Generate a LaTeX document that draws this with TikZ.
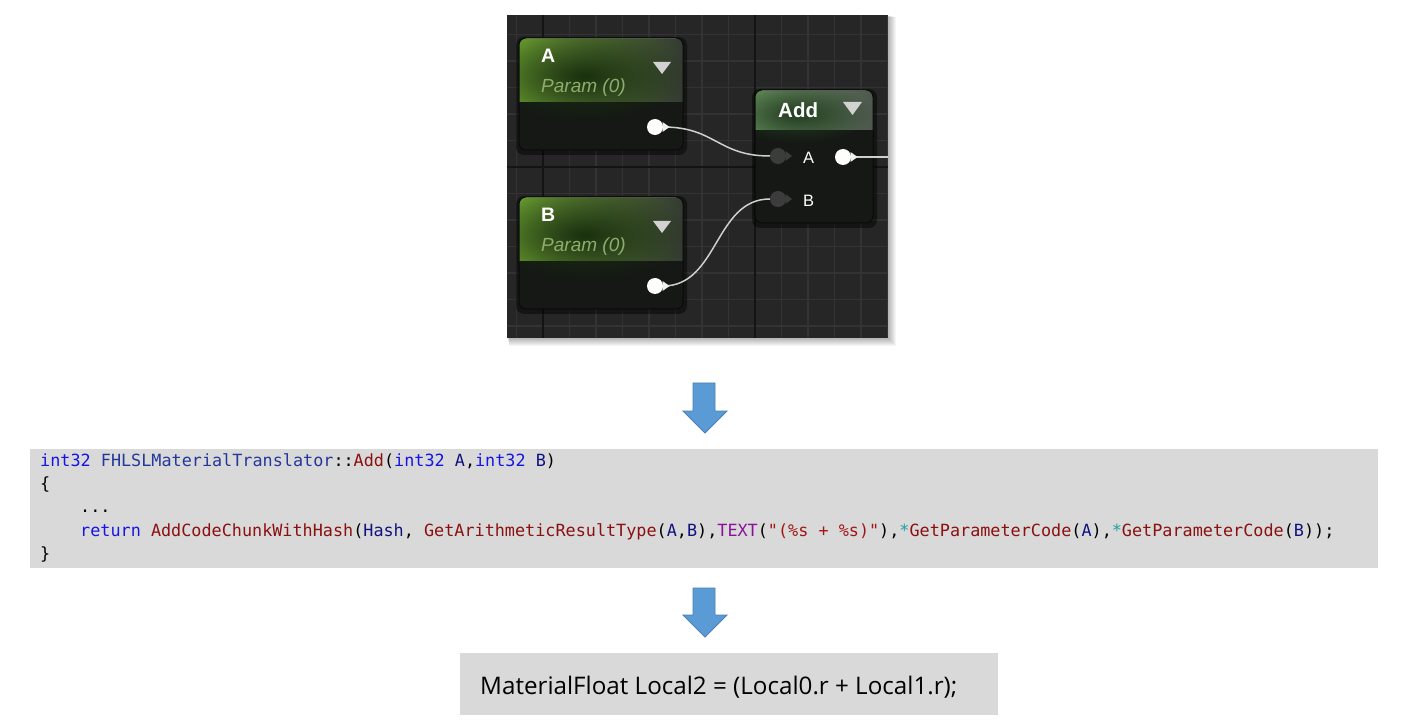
\documentclass[tikz,border=0pt]{standalone}
\usepackage{fontspec}
\setmainfont{Liberation Sans}
\newfontfamily\codefont{DejaVu Sans Mono}
\newfontfamily\outfont{Open Sans}
\usetikzlibrary{fadings}
\tikzfading[name=blobfade, inner color=transparent!0, outer color=transparent!100]
\definecolor{panelbg}{HTML}{262626}
\definecolor{gridminor}{HTML}{333333}
\definecolor{gridmajor}{HTML}{141414}
\definecolor{nodebody}{HTML}{151815}
\definecolor{nodeedge}{HTML}{0A0A0A}
\definecolor{hdrL}{HTML}{66992F}
\definecolor{hdrM}{HTML}{4F7E2B}
\definecolor{hdrR}{HTML}{343B32}
\definecolor{hdrblob}{HTML}{1A300F}
\definecolor{addL}{HTML}{628B5A}
\definecolor{addM}{HTML}{4F7349}
\definecolor{addR}{HTML}{4E584E}
\definecolor{addblob}{HTML}{223C1F}
\definecolor{paramtxt}{HTML}{8FAD6B}
\definecolor{tricol}{HTML}{D2D2D2}
\definecolor{pindark}{HTML}{3C3C3C}
\definecolor{wirecol}{HTML}{CFCFCF}
\definecolor{arrowfill}{HTML}{5B9BD5}
\definecolor{arrowedge}{HTML}{4A7FB5}
\definecolor{boxgray}{HTML}{D9D9D9}
\definecolor{ckw}{HTML}{1515E6}
\definecolor{ccls}{HTML}{23389A}
\definecolor{cfn}{HTML}{8B1010}
\definecolor{cvar}{HTML}{12127F}
\definecolor{cmac}{HTML}{8A0F9A}
\definecolor{cstr}{HTML}{A31515}
\definecolor{cop}{HTML}{1E9E9E}
\newcommand\ckw[1]{\textcolor{ckw}{#1}}
\newcommand\ccls[1]{\textcolor{ccls}{#1}}
\newcommand\cfn[1]{\textcolor{cfn}{#1}}
\newcommand\cvar[1]{\textcolor{cvar}{#1}}
\newcommand\cmac[1]{\textcolor{cmac}{#1}}
\newcommand\cstr[1]{\textcolor{cstr}{#1}}
\newcommand\cop[1]{\textcolor{cop}{#1}}
\tikzset{
  gridline/.style={draw=gridminor, line width=1.3pt},
  majorline/.style={draw=gridmajor, line width=2pt},
  nodeframe/.style={draw=nodeedge, line width=1pt, rounded corners=7pt},
  nodeshadow/.style={fill=black, opacity=0.45, rounded corners=8pt},
  titletxt/.style={anchor=base west, inner sep=0pt, text=white, font=\bfseries\fontsize{19.5}{22}\selectfont},
  paramtext/.style={anchor=base west, inner sep=0pt, text=paramtxt, font=\itshape\fontsize{19}{22}\selectfont},
  pinlabel/.style={anchor=base west, inner sep=0pt, text=white, font=\fontsize{16.5}{19}\selectfont},
  outpin/.style={circle, fill=white, minimum size=16pt, inner sep=0pt},
  inpin/.style={circle, fill=pindark, minimum size=16pt, inner sep=0pt},
  wire/.style={draw=wirecol, line width=1.5pt},
  blockarrow/.style={fill=arrowfill, draw=arrowedge, line width=0.8pt, line join=miter},
  codeline/.style={anchor=base west, inner sep=0pt, font=\codefont\fontsize{16.8}{20}\selectfont},
  outtext/.style={anchor=base west, inner sep=0pt, font=\outfont\fontsize{24.2}{29}\selectfont}
}
\begin{document}
\begin{tikzpicture}[x=1pt,y=-1pt]
\useasboundingbox (0,0) rectangle (1409,727);
\fill[white] (0,0) rectangle (1409,727);

% ---------- panel shadow ----------
\foreach \i in {1,...,8}
  \fill[black,opacity=0.04] ({507+0.3*\i},{15+0.3*\i}) rectangle ({888+\i},{338+\i});

% ---------- panel ----------
\fill[panelbg] (507,15) rectangle (888,338);
\begin{scope}
  \clip (507,15) rectangle (888,338);
  \foreach \k in {-10,...,6}
    \draw[gridline] ({755+\k*26.5},15) -- ++(0,323);
  \foreach \k in {-6,...,7}
    \draw[gridline] (507,{167+\k*26.5}) -- ++(381,0);
  \draw[majorline] (543,15) -- (543,338);
  \draw[majorline] (755,15) -- (755,338);
  \draw[majorline] (507,167) -- (888,167);
\end{scope}

% ---------- node A ----------
\fill[nodeshadow] (516,37) rectangle (687,155);
\begin{scope}
  \clip[rounded corners=7pt] (519,38) rectangle (683,150);
  \fill[nodebody] (519,38) rectangle (683,150);
  \shade[left color=hdrL, middle color=hdrM, right color=hdrR] (519,38) rectangle (683,102);
  \fill[hdrblob, path fading=blobfade] (585,76) ellipse [x radius=105, y radius=46];
  \draw[white, opacity=0.25, line width=1pt] (519,39) -- (683,39);
\end{scope}
\draw[nodeframe] (519,38) rectangle (683,150);
\node[titletxt] (tA) at (541,63) {A};
\node[paramtext] (pA) at (541,93) {Param (0)};
\fill[tricol] (653,62) -- (671,62) -- (662,74) -- cycle;
\node[outpin] (oA) at (655,127) {};

% ---------- node B ----------
\fill[nodeshadow] (516,196) rectangle (687,314);
\begin{scope}
  \clip[rounded corners=7pt] (519,197) rectangle (683,309);
  \fill[nodebody] (519,197) rectangle (683,309);
  \shade[left color=hdrL, middle color=hdrM, right color=hdrR] (519,197) rectangle (683,261);
  \fill[hdrblob, path fading=blobfade] (585,235) ellipse [x radius=105, y radius=46];
  \draw[white, opacity=0.25, line width=1pt] (519,198) -- (683,198);
\end{scope}
\draw[nodeframe] (519,197) rectangle (683,309);
\node[titletxt] (tB) at (541,222) {B};
\node[paramtext] (pB) at (541,252) {Param (0)};
\fill[tricol] (653,221) -- (671,221) -- (662,233) -- cycle;
\node[outpin] (oB) at (655,286) {};

% ---------- Add node ----------
\fill[nodeshadow] (752,89) rectangle (877,228);
\begin{scope}
  \clip[rounded corners=7pt] (755,90) rectangle (873,223);
  \fill[nodebody] (755,90) rectangle (873,223);
  \shade[left color=addL, middle color=addM, right color=addR] (755,90) rectangle (873,130);
  \fill[addblob, path fading=blobfade] (798,114) ellipse [x radius=75, y radius=30];
  \draw[white, opacity=0.25, line width=1pt] (755,91) -- (873,91);
\end{scope}
\draw[nodeframe] (755,90) rectangle (873,223);
\node[titletxt, font=\bfseries\fontsize{20.5}{24}\selectfont] (tAdd) at (778,117.5) {Add};
\fill[tricol] (843,102) -- (862,102) -- (852.5,115) -- cycle;
\node[inpin] (iA) at (778,156) {};
\node[inpin] (iB) at (778,199) {};
\node[pinlabel] (lA) at (803,163.5) {A};
\node[pinlabel] (lB) at (803,206.5) {B};
\node[outpin] (oAdd) at (843,157) {};
\coordinate (outR) at (888,157);

% ---------- wires ----------
\draw[wire] (oA.east) .. controls +(52,0) and +(-52,0) .. (iA.west);
\draw[wire] (oB.east) .. controls +(55,0) and +(-55,0) .. (iB.west);
\draw[wire] (oAdd.east) -- (outR);

% small pin arrows
\fill[white!88!gray] (662.5,122) -- (669.5,127) -- (662.5,132) -- cycle;
\fill[white!88!gray] (662.5,281) -- (669.5,286) -- (662.5,291) -- cycle;
\fill[white!88!gray] (850.5,152) -- (857.5,157) -- (850.5,162) -- cycle;
\fill[pindark] (785.5,151) -- (792,156) -- (785.5,161) -- cycle;
\fill[pindark] (785.5,194) -- (792,199) -- (785.5,204) -- cycle;

% ---------- block arrows ----------
\draw[blockarrow] (693,383) -- (715,383) -- (715,411) -- (727,411) -- (705,433) -- (683,411) -- (693,411) -- cycle;
\draw[blockarrow] (693,588) -- (715,588) -- (715,615) -- (727,615) -- (705,637) -- (683,615) -- (693,615) -- cycle;

% ---------- code block ----------
\fill[boxgray] (30,449) rectangle (1378,568);
\node[codeline] (c1) at (40,466) {\ckw{int32} \ccls{FHLSLMaterialTranslator}::\cfn{Add}(\ckw{int32} \cvar{A},\ckw{int32} \cvar{B})};
\node[codeline] (c2) at (40,489.5) {\{};
\node[codeline] (c3) at (80,512.5) {...};
\node[codeline] (c4) at (80,536) {\ckw{return} \cfn{AddCodeChunkWithHash}(\cvar{Hash}, \cfn{GetArithmeticResultType}(\cvar{A},\cvar{B}),\cmac{TEXT}(\cstr{\char34(\%s + \%s)\char34}),\cop{*}\cfn{GetParameterCode}(\cvar{A}),\cop{*}\cfn{GetParameterCode}(\cvar{B}));};
\node[codeline] (c5) at (40,559) {\}};

% ---------- result box ----------
\fill[boxgray] (460,653) rectangle (998,715);
\node[outtext] (res) at (480,694) {MaterialFloat Local2 = (Local0.r + Local1.r);};
\end{tikzpicture}
\end{document}
